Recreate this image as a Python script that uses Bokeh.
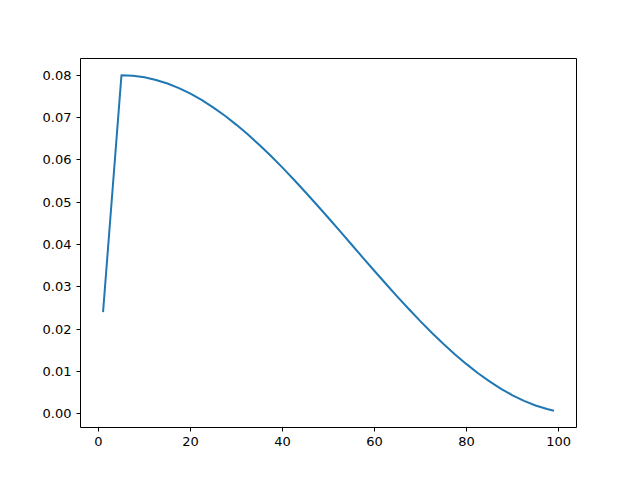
from bokeh.plotting import figure
from bokeh.embed import file_html
from bokeh.resources import INLINE
from bokeh.models import Range1d, FixedTicker, PrintfTickFormatter

# values (epoch vs learning rate)
epoch = [1, 5, 7.5, 10, 12.5, 15, 17.5, 20, 22.5, 25, 27.5, 30, 32.5, 35, 37.5, 40,
         42.5, 45, 47.5, 50, 52.5, 55, 57.5, 60, 62.5, 65, 67.5, 70, 72.5, 75, 77.5,
         80, 82.5, 85, 87.5, 90, 92.5, 95, 97.5, 99]
lr = [0.024, 0.08, 0.07988, 0.07951, 0.07889, 0.07804, 0.07696, 0.07564, 0.07411,
      0.07236, 0.07042, 0.06828, 0.06598, 0.06351, 0.06090, 0.05816, 0.05531, 0.05236,
      0.04934, 0.04626, 0.04314, 0.04, 0.03686, 0.03374, 0.03066, 0.02764, 0.02469,
      0.02184, 0.01910, 0.01649, 0.01402, 0.01172, 0.00958, 0.00764, 0.00589, 0.00436,
      0.00304, 0.00196, 0.00111, 0.00071]
x_ticks = [0, 20, 40, 60, 80, 100]
y_ticks = [0.0, 0.01, 0.02, 0.03, 0.04, 0.05, 0.06, 0.07, 0.08]

p = figure(width=632, height=472, output_backend="svg", toolbar_location=None,
           x_range=Range1d(-3.9, 103.9), y_range=Range1d(-0.00325, 0.08396),
           min_border_left=80, min_border_right=56, min_border_top=58, min_border_bottom=45)
p.background_fill_color = "white"
p.border_fill_color = "white"
p.outline_line_color = "black"
p.outline_line_width = 1
p.grid.visible = False

p.line(epoch, lr, line_color="#1f77b4", line_width=2, line_join="round")

for ax in (p.xaxis[0], p.yaxis[0]):
    ax.major_label_text_font = "DejaVu Sans"
    ax.major_label_text_font_size = "13px"
    ax.major_label_text_color = "black"
    ax.major_tick_out = 4
    ax.major_tick_in = 0
    ax.minor_tick_out = 0
    ax.minor_tick_in = 0
    ax.axis_line_color = None
    ax.major_tick_line_color = "black"

p.xaxis[0].ticker = FixedTicker(ticks=x_ticks)
p.yaxis[0].ticker = FixedTicker(ticks=y_ticks)
p.yaxis[0].formatter = PrintfTickFormatter(format="%.2f")

open("out.html", "w").write(file_html(p, INLINE))
